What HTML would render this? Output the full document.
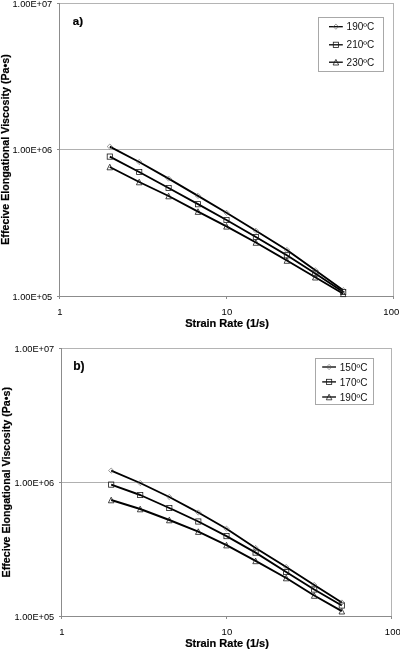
<!DOCTYPE html>
<html><head><meta charset="utf-8"><title>Chart</title>
<style>
html,body{margin:0;padding:0;background:#fff;}
svg{display:block}
text{font-family:"Liberation Sans",sans-serif;fill:#111}
.t{font-size:9.5px;fill:#000}
.l{font-size:10px}
.b{font-size:11px;font-weight:bold;fill:#000;stroke:#000;stroke-width:0.2px}
.p{font-size:12px}
</style></head><body>
<svg width="400" height="650" viewBox="0 0 400 650">
<rect width="400" height="650" fill="#fff"/>
<g shape-rendering="crispEdges" fill="none">
<path d="M59.5 3.5H393.5V296.5" stroke="#b4b4b4" stroke-width="1"/>
<path d="M59.5 149.5H393.5" stroke="#b0b0b0" stroke-width="1"/>
<path d="M59.5 3.5V299.0M56.5 296.5H393.5M56.5 3.5H59.5M56.5 149.5H59.5M226.5 296.5v2.5M393.5 296.5v2.5" stroke="#8c8c8c" stroke-width="1"/>
</g>
<text x="52.2" y="6.9" text-anchor="end" class="t" textLength="39.7" lengthAdjust="spacingAndGlyphs">1.00E+07</text>
<text x="52.2" y="153.4" text-anchor="end" class="t" textLength="39.7" lengthAdjust="spacingAndGlyphs">1.00E+06</text>
<text x="52.2" y="299.9" text-anchor="end" class="t" textLength="39.7" lengthAdjust="spacingAndGlyphs">1.00E+05</text>
<text x="60.0" y="314.6" text-anchor="middle" class="t">1</text>
<text x="226.9" y="314.6" text-anchor="middle" class="t">10</text>
<text x="391.3" y="314.6" text-anchor="middle" class="t">100</text>
<text x="227.0" y="327.4" text-anchor="middle" class="b">Strain Rate (1/s)</text>
<text transform="translate(8.9 149.5) rotate(-90)" text-anchor="middle" class="b" style="font-size:10.5px" textLength="190.5" lengthAdjust="spacingAndGlyphs">Effecive Elongational Viscosity (Pa•s)</text>
<text x="72.8" y="24.8" class="b" style="font-size:11.5px">a)</text>
<polyline points="109.8,146.6 139.2,162.0 168.6,178.6 198.0,195.9 226.5,212.8 255.9,230.8 286.9,250.0 315.3,270.3 343.2,290.2" fill="none" stroke="#000" stroke-width="1.9" stroke-linejoin="round"/>
<polyline points="109.8,156.6 139.2,172.0 168.6,188.0 198.0,204.2 226.5,220.0 255.9,237.0 286.9,255.3 315.3,273.5 343.2,292.0" fill="none" stroke="#000" stroke-width="1.9" stroke-linejoin="round"/>
<polyline points="109.8,167.0 139.2,182.0 168.6,196.0 198.0,211.6 226.5,226.3 255.9,242.5 286.9,260.5 315.3,277.2 343.2,293.8" fill="none" stroke="#000" stroke-width="1.9" stroke-linejoin="round"/>
<path d="M107.2 146.6L109.8 144.0L112.4 146.6L109.8 149.2Z" fill="none" stroke="#555" stroke-width="0.6"/>
<path d="M136.6 162.0L139.2 159.4L141.8 162.0L139.2 164.6Z" fill="none" stroke="#555" stroke-width="0.6"/>
<path d="M166.0 178.6L168.6 176.0L171.2 178.6L168.6 181.2Z" fill="none" stroke="#555" stroke-width="0.6"/>
<path d="M195.4 195.9L198.0 193.3L200.6 195.9L198.0 198.5Z" fill="none" stroke="#555" stroke-width="0.6"/>
<path d="M223.9 212.8L226.5 210.2L229.1 212.8L226.5 215.3Z" fill="none" stroke="#555" stroke-width="0.6"/>
<path d="M253.3 230.8L255.9 228.2L258.5 230.8L255.9 233.4Z" fill="none" stroke="#555" stroke-width="0.6"/>
<path d="M284.3 250.0L286.9 247.4L289.5 250.0L286.9 252.6Z" fill="none" stroke="#555" stroke-width="0.6"/>
<path d="M312.7 270.3L315.3 267.7L317.9 270.3L315.3 272.9Z" fill="none" stroke="#555" stroke-width="0.6"/>
<path d="M340.6 290.2L343.2 287.6L345.8 290.2L343.2 292.8Z" fill="none" stroke="#555" stroke-width="0.6"/>
<rect x="107.2" y="154.0" width="5.2" height="5.2" fill="none" stroke="#1a1a1a" stroke-width="0.8"/>
<rect x="136.6" y="169.4" width="5.2" height="5.2" fill="none" stroke="#1a1a1a" stroke-width="0.8"/>
<rect x="166.0" y="185.4" width="5.2" height="5.2" fill="none" stroke="#1a1a1a" stroke-width="0.8"/>
<rect x="195.4" y="201.6" width="5.2" height="5.2" fill="none" stroke="#1a1a1a" stroke-width="0.8"/>
<rect x="223.9" y="217.4" width="5.2" height="5.2" fill="none" stroke="#1a1a1a" stroke-width="0.8"/>
<rect x="253.3" y="234.4" width="5.2" height="5.2" fill="none" stroke="#1a1a1a" stroke-width="0.8"/>
<rect x="284.3" y="252.7" width="5.2" height="5.2" fill="none" stroke="#1a1a1a" stroke-width="0.8"/>
<rect x="312.7" y="270.9" width="5.2" height="5.2" fill="none" stroke="#1a1a1a" stroke-width="0.8"/>
<rect x="340.6" y="289.4" width="5.2" height="5.2" fill="none" stroke="#1a1a1a" stroke-width="0.8"/>
<path d="M109.8 164.2L112.6 169.8L107.0 169.8Z" fill="none" stroke="#1a1a1a" stroke-width="0.8"/>
<path d="M139.2 179.2L142.0 184.8L136.4 184.8Z" fill="none" stroke="#1a1a1a" stroke-width="0.8"/>
<path d="M168.6 193.2L171.4 198.8L165.8 198.8Z" fill="none" stroke="#1a1a1a" stroke-width="0.8"/>
<path d="M198.0 208.8L200.8 214.4L195.2 214.4Z" fill="none" stroke="#1a1a1a" stroke-width="0.8"/>
<path d="M226.5 223.5L229.3 229.1L223.7 229.1Z" fill="none" stroke="#1a1a1a" stroke-width="0.8"/>
<path d="M255.9 239.7L258.7 245.3L253.1 245.3Z" fill="none" stroke="#1a1a1a" stroke-width="0.8"/>
<path d="M286.9 257.7L289.7 263.3L284.1 263.3Z" fill="none" stroke="#1a1a1a" stroke-width="0.8"/>
<path d="M315.3 274.4L318.1 280.0L312.5 280.0Z" fill="none" stroke="#1a1a1a" stroke-width="0.8"/>
<path d="M343.2 291.0L346.0 296.6L340.4 296.6Z" fill="none" stroke="#1a1a1a" stroke-width="0.8"/>
<rect x="318.5" y="17.5" width="65.0" height="54.0" fill="#fff" stroke="#a8a8a8" stroke-width="1" shape-rendering="crispEdges"/>
<path d="M329.0 26.7h13.8" stroke="#000" stroke-width="1.3"/>
<path d="M333.3 26.7L335.9 24.1L338.5 26.7L335.9 29.3Z" fill="none" stroke="#555" stroke-width="0.6"/>
<text x="346.6" y="30.3" class="l">190ºC</text>
<path d="M329.0 44.8h13.8" stroke="#000" stroke-width="1.3"/>
<rect x="333.3" y="42.2" width="5.2" height="5.2" fill="none" stroke="#1a1a1a" stroke-width="0.8"/>
<text x="346.6" y="48.4" class="l">210ºC</text>
<path d="M329.0 62.2h13.8" stroke="#000" stroke-width="1.3"/>
<path d="M335.9 59.4L338.7 65.0L333.1 65.0Z" fill="none" stroke="#1a1a1a" stroke-width="0.8"/>
<text x="346.6" y="65.8" class="l">230ºC</text>
<g shape-rendering="crispEdges" fill="none">
<path d="M61.5 348.5H391.5V616.5" stroke="#b4b4b4" stroke-width="1"/>
<path d="M61.5 482.5H391.5" stroke="#b0b0b0" stroke-width="1"/>
<path d="M61.5 348.5V619.0M58.5 616.5H391.5M58.5 348.5H61.5M58.5 482.5H61.5M226.5 616.5v2.5M391.5 616.5v2.5" stroke="#8c8c8c" stroke-width="1"/>
</g>
<text x="54.2" y="351.9" text-anchor="end" class="t" textLength="39.7" lengthAdjust="spacingAndGlyphs">1.00E+07</text>
<text x="54.2" y="485.9" text-anchor="end" class="t" textLength="39.7" lengthAdjust="spacingAndGlyphs">1.00E+06</text>
<text x="54.2" y="619.9" text-anchor="end" class="t" textLength="39.7" lengthAdjust="spacingAndGlyphs">1.00E+05</text>
<text x="62.0" y="635" text-anchor="middle" class="t">1</text>
<text x="226.9" y="635" text-anchor="middle" class="t">10</text>
<text x="392.8" y="635" text-anchor="middle" class="t">100</text>
<text x="227.0" y="647.4" text-anchor="middle" class="b">Strain Rate (1/s)</text>
<text transform="translate(9.9 482.2) rotate(-90)" text-anchor="middle" class="b" style="font-size:10.5px" textLength="190.5" lengthAdjust="spacingAndGlyphs">Effecive Elongational Viscosity (Pa•s)</text>
<text x="73.2" y="370" class="b" style="font-size:12px">b)</text>
<polyline points="111.2,470.6 140.2,483.0 169.3,497.0 198.3,512.5 226.5,528.7 255.6,548.0 286.2,567.0 314.2,585.0 341.8,602.5" fill="none" stroke="#000" stroke-width="1.9" stroke-linejoin="round"/>
<polyline points="111.2,484.6 140.2,495.0 169.3,508.0 198.3,521.5 226.5,536.1 255.6,552.6 286.2,572.0 314.2,589.5 341.8,605.5" fill="none" stroke="#000" stroke-width="1.9" stroke-linejoin="round"/>
<polyline points="111.2,500.0 140.2,509.0 169.3,520.0 198.3,531.6 226.5,545.1 255.6,560.9 286.2,578.0 314.2,595.5 341.8,611.2" fill="none" stroke="#000" stroke-width="1.9" stroke-linejoin="round"/>
<path d="M108.6 470.6L111.2 468.0L113.8 470.6L111.2 473.2Z" fill="none" stroke="#555" stroke-width="0.6"/>
<path d="M137.6 483.0L140.2 480.4L142.8 483.0L140.2 485.6Z" fill="none" stroke="#555" stroke-width="0.6"/>
<path d="M166.7 497.0L169.3 494.4L171.9 497.0L169.3 499.6Z" fill="none" stroke="#555" stroke-width="0.6"/>
<path d="M195.7 512.5L198.3 509.9L200.9 512.5L198.3 515.1Z" fill="none" stroke="#555" stroke-width="0.6"/>
<path d="M223.9 528.7L226.5 526.1L229.1 528.7L226.5 531.3Z" fill="none" stroke="#555" stroke-width="0.6"/>
<path d="M253.0 548.0L255.6 545.4L258.2 548.0L255.6 550.6Z" fill="none" stroke="#555" stroke-width="0.6"/>
<path d="M283.6 567.0L286.2 564.4L288.8 567.0L286.2 569.6Z" fill="none" stroke="#555" stroke-width="0.6"/>
<path d="M311.6 585.0L314.2 582.4L316.8 585.0L314.2 587.6Z" fill="none" stroke="#555" stroke-width="0.6"/>
<path d="M339.2 602.5L341.8 599.9L344.4 602.5L341.8 605.1Z" fill="none" stroke="#555" stroke-width="0.6"/>
<rect x="108.6" y="482.0" width="5.2" height="5.2" fill="none" stroke="#1a1a1a" stroke-width="0.8"/>
<rect x="137.6" y="492.4" width="5.2" height="5.2" fill="none" stroke="#1a1a1a" stroke-width="0.8"/>
<rect x="166.7" y="505.4" width="5.2" height="5.2" fill="none" stroke="#1a1a1a" stroke-width="0.8"/>
<rect x="195.7" y="518.9" width="5.2" height="5.2" fill="none" stroke="#1a1a1a" stroke-width="0.8"/>
<rect x="223.9" y="533.5" width="5.2" height="5.2" fill="none" stroke="#1a1a1a" stroke-width="0.8"/>
<rect x="253.0" y="550.0" width="5.2" height="5.2" fill="none" stroke="#1a1a1a" stroke-width="0.8"/>
<rect x="283.6" y="569.4" width="5.2" height="5.2" fill="none" stroke="#1a1a1a" stroke-width="0.8"/>
<rect x="311.6" y="586.9" width="5.2" height="5.2" fill="none" stroke="#1a1a1a" stroke-width="0.8"/>
<rect x="339.2" y="602.9" width="5.2" height="5.2" fill="none" stroke="#1a1a1a" stroke-width="0.8"/>
<path d="M111.2 497.2L114.0 502.8L108.4 502.8Z" fill="none" stroke="#1a1a1a" stroke-width="0.8"/>
<path d="M140.2 506.2L143.0 511.8L137.4 511.8Z" fill="none" stroke="#1a1a1a" stroke-width="0.8"/>
<path d="M169.3 517.2L172.1 522.8L166.5 522.8Z" fill="none" stroke="#1a1a1a" stroke-width="0.8"/>
<path d="M198.3 528.8L201.1 534.4L195.5 534.4Z" fill="none" stroke="#1a1a1a" stroke-width="0.8"/>
<path d="M226.5 542.3L229.3 547.9L223.7 547.9Z" fill="none" stroke="#1a1a1a" stroke-width="0.8"/>
<path d="M255.6 558.1L258.4 563.7L252.8 563.7Z" fill="none" stroke="#1a1a1a" stroke-width="0.8"/>
<path d="M286.2 575.2L289.0 580.8L283.4 580.8Z" fill="none" stroke="#1a1a1a" stroke-width="0.8"/>
<path d="M314.2 592.7L317.0 598.3L311.4 598.3Z" fill="none" stroke="#1a1a1a" stroke-width="0.8"/>
<path d="M341.8 608.5L344.6 614.0L339.0 614.0Z" fill="none" stroke="#1a1a1a" stroke-width="0.8"/>
<rect x="315.5" y="358" width="58.0" height="46" fill="#fff" stroke="#a8a8a8" stroke-width="1" shape-rendering="crispEdges"/>
<path d="M322.2 367h13.8" stroke="#000" stroke-width="1.3"/>
<path d="M326.5 367.0L329.1 364.4L331.7 367.0L329.1 369.6Z" fill="none" stroke="#555" stroke-width="0.6"/>
<text x="339.8" y="370.6" class="l">150ºC</text>
<path d="M322.2 381.9h13.8" stroke="#000" stroke-width="1.3"/>
<rect x="326.5" y="379.3" width="5.2" height="5.2" fill="none" stroke="#1a1a1a" stroke-width="0.8"/>
<text x="339.8" y="385.5" class="l">170ºC</text>
<path d="M322.2 397h13.8" stroke="#000" stroke-width="1.3"/>
<path d="M329.1 394.2L331.9 399.8L326.3 399.8Z" fill="none" stroke="#1a1a1a" stroke-width="0.8"/>
<text x="339.8" y="400.6" class="l">190ºC</text>
</svg>
</body></html>
